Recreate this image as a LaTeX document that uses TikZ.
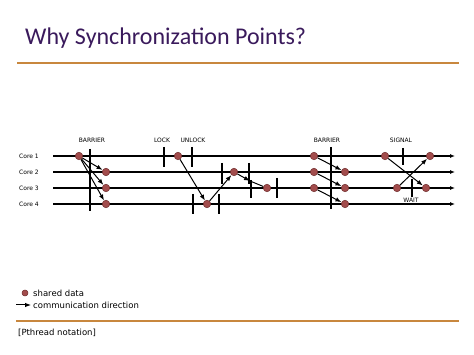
\documentclass[tikz,border=0pt]{standalone}
\usepackage{fontspec}
\setmainfont{Carlito}
\newfontfamily\smallfont{DejaVu Sans}
\newfontfamily\legfont{DejaVu Sans}
\usetikzlibrary{arrows.meta}
\definecolor{titlec}{HTML}{3A1A5C}
\definecolor{rulec}{HTML}{C8873E}
\definecolor{dotc}{HTML}{A24C4C}
\definecolor{dotd}{HTML}{6E2A2A}
\begin{document}
\begin{tikzpicture}[x=1pt,y=-1pt,
  coreline/.style={line width=1.4pt,-{Latex[length=5pt,width=4pt]}},
  syncbar/.style={line width=2pt},
  dot/.style={circle,fill=dotc,draw=dotd,line width=0.5pt,inner sep=0pt,minimum size=7.5pt},
  comm/.style={line width=1pt,-{Latex[length=6pt,width=4.5pt]}},
  plainlink/.style={line width=1pt},
  lab/.style={font=\smallfont\fontsize{6}{7}\selectfont,inner sep=0pt},
  leg/.style={font=\legfont\fontsize{8.5}{10}\selectfont,inner sep=0pt,anchor=west},
  hrule/.style={rulec,line width=1.5pt}]
\useasboundingbox[fill=white] (0,0) rectangle (474,355);

% title
\node[anchor=base west,text=titlec,font=\fontsize{24}{28}\selectfont,inner sep=0pt] (title) at (25,45) {Why Synchronization Points?};
\coordinate (r1a) at (17,63); \coordinate (r1b) at (459,63);
\draw[hrule] (r1a) -- (r1b);

% core labels and lines
\foreach \i/\y in {1/156,2/172,3/188,4/204}{
  \node[lab] (core\i) at (29,\y) {Core \i};
  \coordinate (s\i) at (53,\y);
  \coordinate (e\i) at (455,\y);
  \draw[coreline] (s\i) -- (e\i);
}

% top labels
\node[lab] (labB1) at (92,140) {BARRIER};
\node[lab] (labL) at (162,140) {LOCK};
\node[lab] (labU) at (193,140) {UNLOCK};
\node[lab] (labB2) at (327,140) {BARRIER};
\node[lab] (labS) at (401,140) {SIGNAL};
\node[lab,anchor=south] (labW) at (411,202.5) {WAIT};

% bars
\draw[syncbar] (90,149) -- (90,211);
\draw[syncbar] (164,147) -- (164,167);
\draw[syncbar] (192,147) -- (192,167);
\draw[syncbar] (193,194) -- (193,214);
\draw[syncbar] (219,194) -- (219,214);
\draw[syncbar] (222,163) -- (222,184);
\draw[syncbar] (249,163) -- (249,184);
\draw[syncbar] (251,180) -- (251,198);
\draw[syncbar] (277,178) -- (277,198);
\draw[syncbar] (331,147) -- (331,209);
\draw[syncbar] (403,148) -- (403,165);
\draw[syncbar] (412,179) -- (412,197);

% dots
\node[dot] (a1) at (79,156) {};
\node[dot] (b2) at (106,172) {};
\node[dot] (b3) at (106,188) {};
\node[dot] (b4) at (106,204) {};
\node[dot] (l1) at (178,156) {};
\node[dot] (d4) at (207,204) {};
\node[dot] (d2) at (234,172) {};
\coordinate (j) at (250,181);
\node[dot] (d3) at (267,188) {};
\node[dot] (p1) at (314,156) {};
\node[dot] (p2) at (314,172) {};
\node[dot] (p3) at (314,188) {};
\node[dot] (q2) at (345,172) {};
\node[dot] (q3) at (345,188) {};
\node[dot] (q4) at (345,204) {};
\node[dot] (sl1) at (385,156) {};
\node[dot] (sr1) at (430,156) {};
\node[dot] (sl3) at (397,188) {};
\node[dot] (sr3) at (426,188) {};

% communications
\draw[comm] (a1) -- (b2);
\draw[comm] (a1) -- (b3);
\draw[comm] (a1) -- (b4);
\draw[comm] (l1) -- (d4);
\draw[comm] (d4) -- (d2);
\draw[comm] (d2) -- (j);
\draw[plainlink] (j) -- (d3);
\draw[comm] (p1) -- (q2);
\draw[comm] (p2) -- (q3);
\draw[comm] (p3) -- (q4);
\draw[comm] (sl1) -- (sr3);
\draw[comm] (sl3) -- (sr1);

% legend
\node[dot,minimum size=6pt] (legdot) at (25,293) {};
\node[leg] (legd) at (33,293) {shared data};
\coordinate (la) at (16,305);
\coordinate (lb) at (31,305);
\draw[comm] (la) -- (lb);
\node[leg] (legc) at (33,305) {communication direction};
\coordinate (r2a) at (16,321); \coordinate (r2b) at (459,321);
\draw[hrule] (r2a) -- (r2b);
\node[leg] (pth) at (18,333) {[Pthread notation]};
\end{tikzpicture}
\end{document}
